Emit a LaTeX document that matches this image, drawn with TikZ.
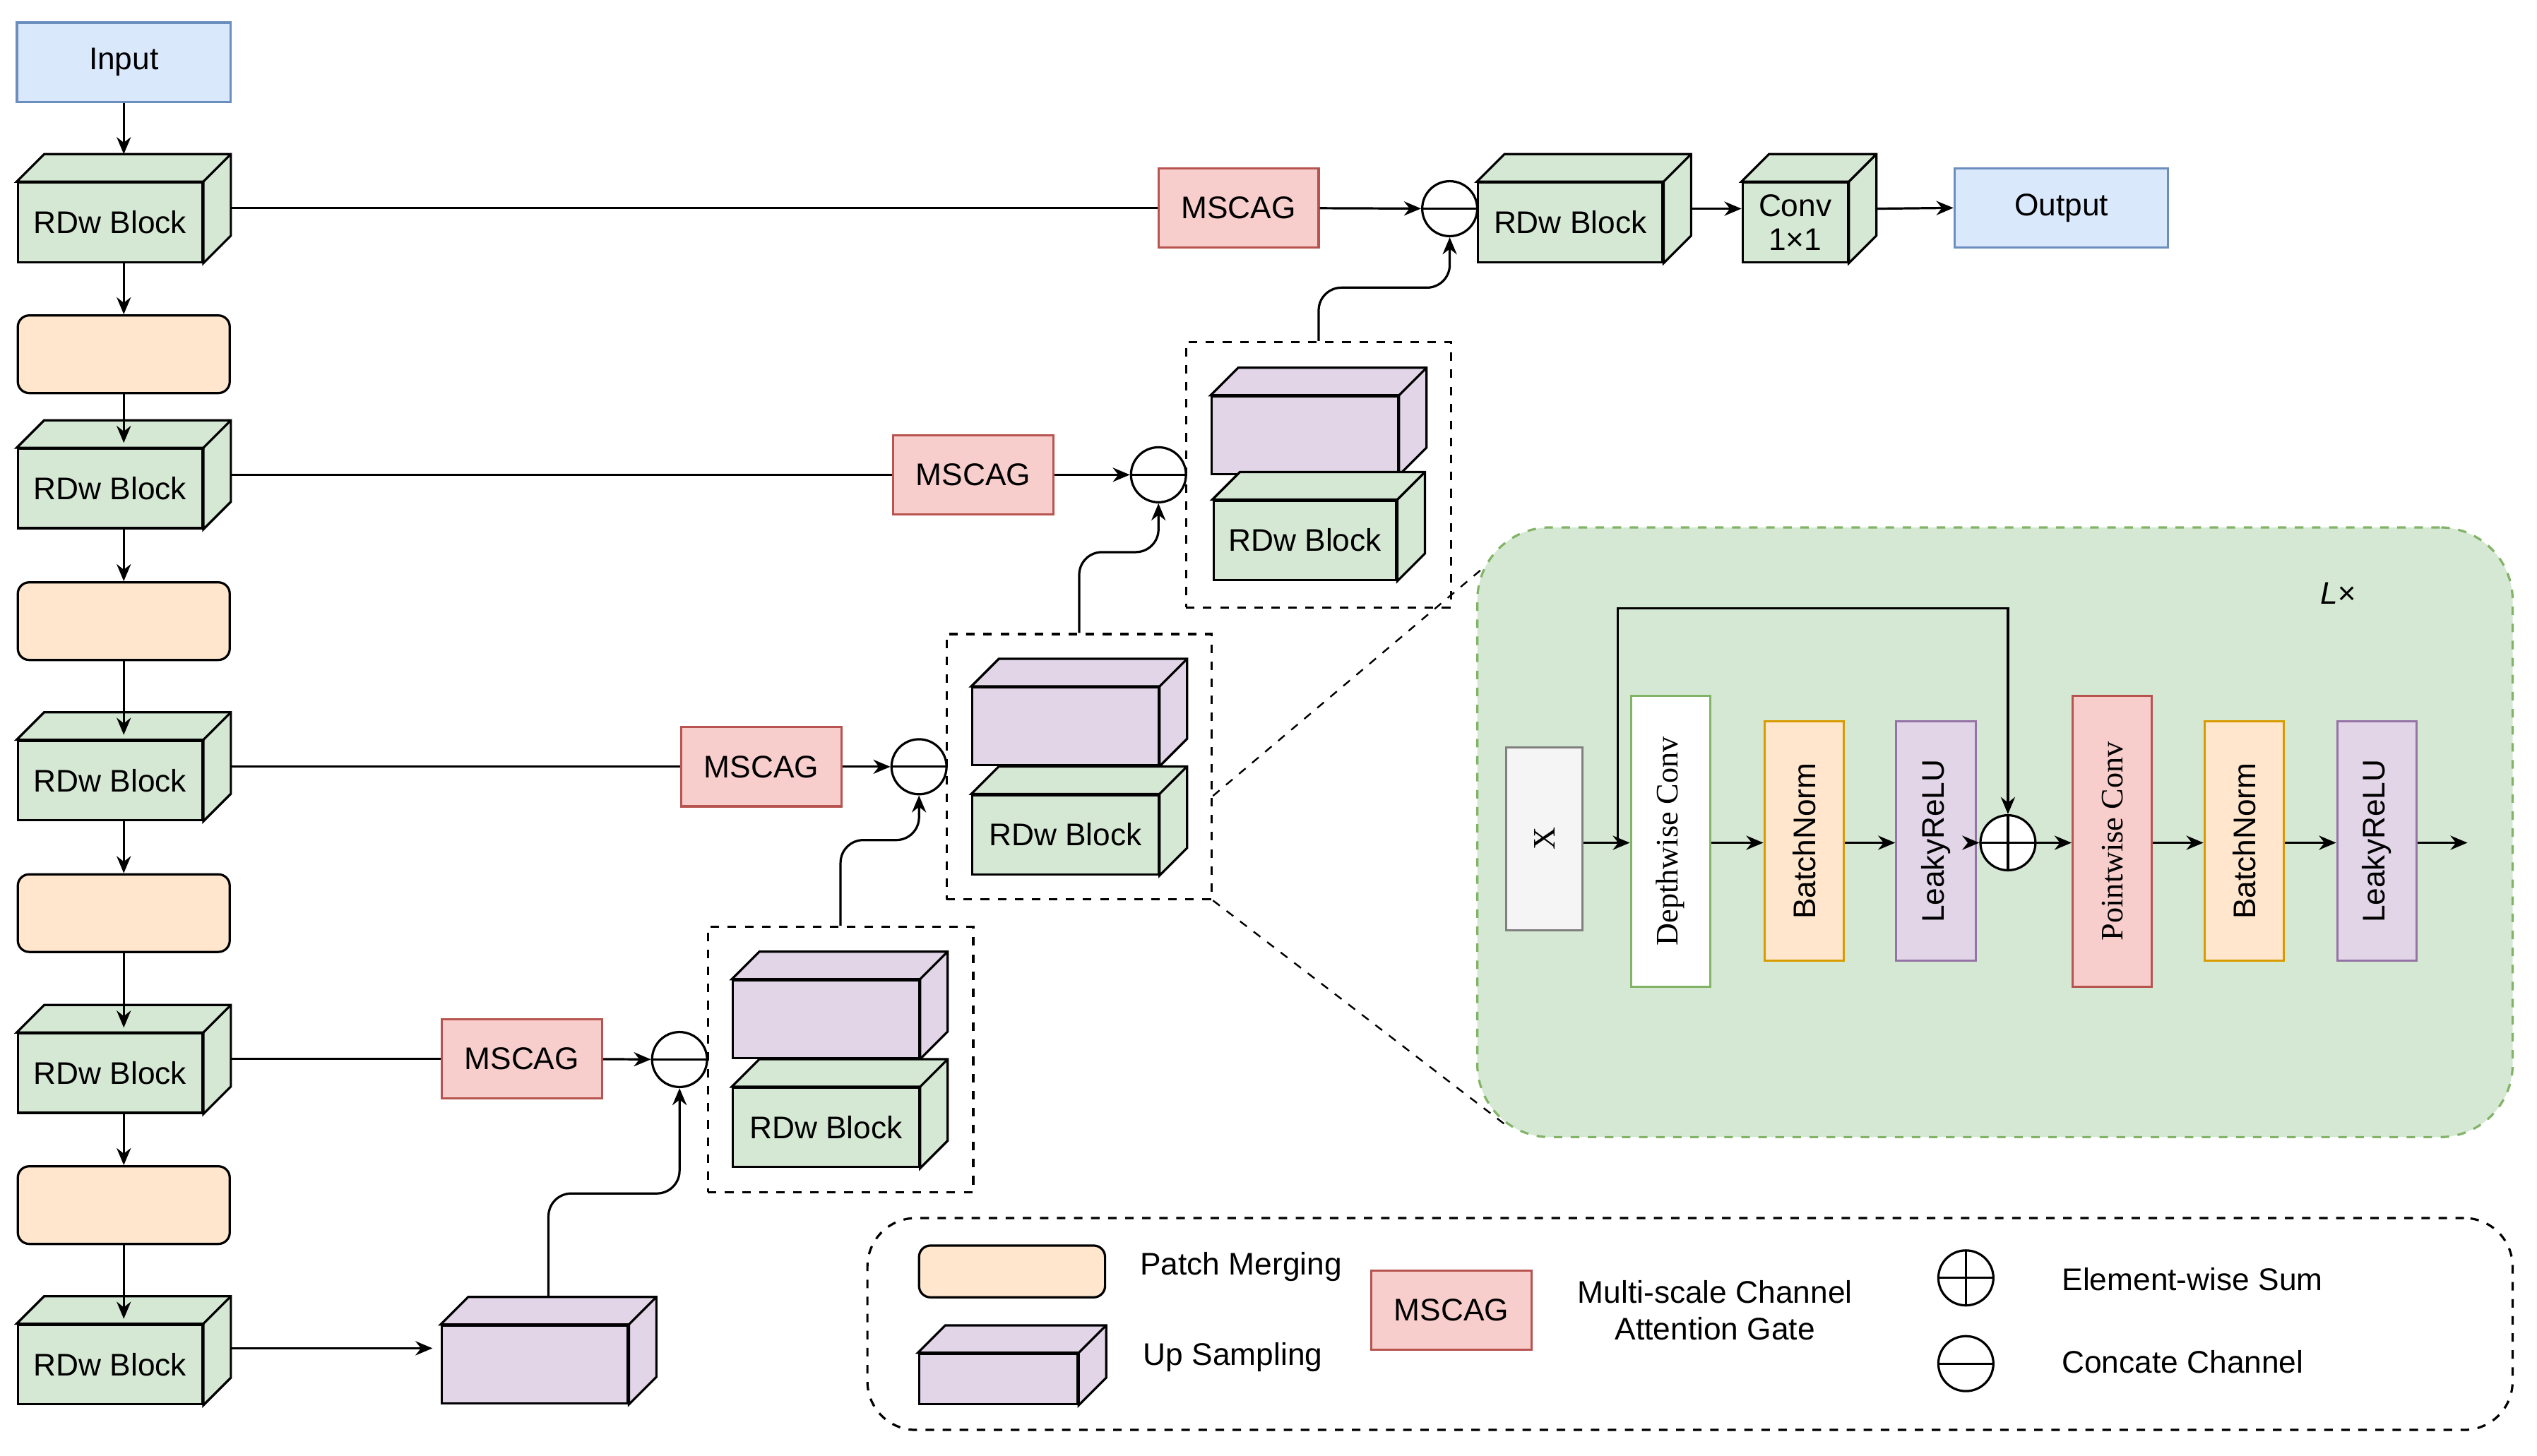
\documentclass[tikz,border=0pt]{standalone}
\usepackage{fontspec}
\setmainfont{Liberation Sans}
\newfontfamily\serif{Liberation Serif}
\usetikzlibrary{arrows.meta}
\definecolor{bluefill}{HTML}{DAE8FC}
\definecolor{blueline}{HTML}{6C8EBF}
\definecolor{greenfill}{HTML}{D5E8D4}
\definecolor{greenline}{HTML}{82B366}
\definecolor{orangefill}{HTML}{FFE6CC}
\definecolor{orangeline}{HTML}{D79B00}
\definecolor{redfill}{HTML}{F8CECC}
\definecolor{redline}{HTML}{B85450}
\definecolor{purplefill}{HTML}{E1D5E7}
\definecolor{purpleline}{HTML}{9673A6}
\tikzset{
  every node/.style={font=\fontsize{11}{13}\selectfont},
  arr/.style={-{Stealth[length=6pt,width=5pt]}},
  rdw/.style={draw, fill=greenfill, minimum width=2.28cm, minimum height=0.98cm, inner sep=0pt},
  up/.style={draw, fill=purplefill, minimum width=2.3cm, minimum height=0.96cm, inner sep=0pt},
  merge/.style={draw, fill=orangefill, rounded corners=4pt, minimum width=2.62cm, minimum height=0.96cm},
  io/.style={draw=blueline, fill=bluefill, minimum width=2.64cm, minimum height=0.98cm},
  gate/.style={draw=redline, fill=redfill, minimum width=1.98cm, minimum height=0.98cm},
  concat/.style={draw, fill=white, circle, minimum size=0.68cm, inner sep=0pt,
    path picture={\draw (path picture bounding box.west) -- (path picture bounding box.east);}},
  plus/.style={concat, path picture={\draw (path picture bounding box.west) -- (path picture bounding box.east)
    (path picture bounding box.north) -- (path picture bounding box.south);}},
  group/.style={draw, dashed, minimum width=3.28cm, minimum height=3.28cm},
  layer/.style={draw, minimum width=0.98cm, minimum height=2.96cm, inner sep=0pt},
}
\newcommand{\extrude}[2]{%
  \draw[fill=#2] (#1.north west) -- ++(0.34cm,0.34cm) -- ([shift={(0.34cm,0.34cm)}]#1.north east)
    -- ([shift={(0.34cm,0.34cm)}]#1.south east) -- (#1.south east) -- (#1.north east) -- cycle;
  \draw (#1.north east) -- ++(0.34cm,0.34cm);}
\begin{document}
\begin{tikzpicture}[x=0.02cm, y=-0.02cm, line width=0.8pt]
\useasboundingbox (0,0) rectangle (1568,900);

% encoder
\node[io] (input) at (76.5,38.5) {Input};
\node[rdw] (rdw1) at (68,137.5) {RDw Block}; \extrude{rdw1}{greenfill}
\node[merge] (pm1) at (76.5,219) {};
\node[rdw] (rdw2) at (68,302) {RDw Block}; \extrude{rdw2}{greenfill}
\node[merge] (pm2) at (76.5,384) {};
\node[rdw] (rdw3) at (68,482.5) {RDw Block}; \extrude{rdw3}{greenfill}
\node[merge] (pm3) at (76.5,564.5) {};
\node[rdw] (rdw4) at (68,663.5) {RDw Block}; \extrude{rdw4}{greenfill}
\node[merge] (pm4) at (76.5,745) {};
\node[rdw] (rdw5) at (68,843.5) {RDw Block}; \extrude{rdw5}{greenfill}

\draw[arr] (input.south) -- ([yshift=0.34cm]input.south |- rdw1.north);
\foreach \i/\j in {1/2,2/3,3/4,4/5}{
  \draw[arr] (pm\i.north |- rdw\i.south) -- (pm\i.north);
  \draw[arr] (pm\i.south) -- ([yshift=0.06cm]pm\i.south |- rdw\j.north);
}

% skip connections
\node[gate] (m1) at (765.5,128.5) {MSCAG};
\node[gate] (m2) at (601.5,293.5) {MSCAG};
\node[gate] (m3) at (470.5,474) {MSCAG};
\node[gate] (m4) at (322.5,654.5) {MSCAG};
\node[concat] (c1) at (896,129) {};
\node[concat] (c2) at (716,293.5) {};
\node[concat] (c3) at (568,474) {};
\node[concat] (c4) at (420,655) {};
\foreach \i in {1,...,4}{
  \draw ([xshift=0.34cm]rdw\i.east |- m\i) -- (m\i);
  \draw[arr] (m\i) -- (c\i);
}

% decoder
\node[group] (d1) at (815,293.5) {};
\node[up] (u1) at (806.5,269) {}; \extrude{u1}{purplefill}
\node[rdw, minimum width=2.26cm] (r1) at (806.5,334) {RDw Block}; \extrude{r1}{greenfill}
\node[group] (d2) at (667,474) {};
\node[up] (u2) at (658.5,449) {}; \extrude{u2}{purplefill}
\node[rdw, minimum width=2.3cm] (r2) at (658.5,516) {RDw Block}; \extrude{r2}{greenfill}
\node[group] (d3) at (519.5,655) {};
\node[up] (u3) at (510.5,630) {}; \extrude{u3}{purplefill}
\node[rdw, minimum width=2.3cm] (r3) at (510.5,697) {RDw Block}; \extrude{r3}{greenfill}
\node[up] (u4) at (330.5,843.5) {}; \extrude{u4}{purplefill}

\draw[arr] ([xshift=0.34cm,yshift=0.2cm]rdw5.east) -- ([xshift=-0.1cm,yshift=0.2cm]u4.west);
\draw[arr, rounded corners=8pt] ([xshift=0.17cm,yshift=0.34cm]u4.north) -- ++(0,-64) -| (c4.south);
\draw[arr, rounded corners=8pt] (d3.north) -- ++(0,-53) -| (c3.south);
\draw[arr, rounded corners=8pt] (d2.north) -- ++(0,-50) -| (c2.south);
\draw[arr, rounded corners=8pt] (d1.north) -- ++(0,-33) -| (c1.south);

\node[rdw] (rdwT) at (970.5,137.5) {RDw Block}; \extrude{rdwT}{greenfill}
\node[rdw, minimum width=1.3cm, align=center, font=\fontsize{11}{12}\selectfont] (conv) at (1109.5,137.5) {Conv\\1×1};
\extrude{conv}{greenfill}
\node[io] (output) at (1274,128.5) {Output};
\draw[arr] ([xshift=0.34cm]rdwT.east |- c1) -- (conv.west |- c1);
\draw[arr] ([xshift=0.34cm]conv.east |- c1) -- (output.west);

% detail panel
\node[draw=greenline, dashed, fill=greenfill, rounded corners=0.9cm, minimum width=12.8cm, minimum height=7.54cm] (panel) at (1233,514.5) {};
\coordinate (z1) at (918,350);
\coordinate (z2) at (930,695);
\draw[dashed, line width=0.6pt] ([yshift=-0.36cm]d2.east) -- (z1);
\draw[dashed, line width=0.6pt] (d2.south east) -- (z2);
\node[font=\fontsize{11}{13}\selectfont\itshape] (lx) at (1445,367) {L×};
\node[layer, draw=gray, fill=white!96!black, minimum width=0.94cm, minimum height=2.26cm] (x) at (954.5,518.5) {\rotatebox{90}{\serif X}};
\node[layer, draw=greenline, fill=white, minimum height=3.6cm] (dw) at (1032.5,520) {\rotatebox{90}{\serif Depthwise Conv}};
\node[layer, draw=orangeline, fill=orangefill] (bn1) at (1115,520) {\rotatebox{90}{BatchNorm}};
\node[layer, draw=purpleline, fill=purplefill] (lr1) at (1196.5,520) {\rotatebox{90}{LeakyReLU}};
\node[plus] (sum) at (1241,521) {};
\node[layer, draw=redline, fill=redfill, minimum height=3.6cm] (pw) at (1305.5,520) {\rotatebox{90}{\serif Pointwise Conv}};
\node[layer, draw=orangeline, fill=orangefill] (bn2) at (1387,520) {\rotatebox{90}{BatchNorm}};
\node[layer, draw=purpleline, fill=purplefill] (lr2) at (1469,520) {\rotatebox{90}{LeakyReLU}};
\coordinate (tap) at (1000,521);
\coordinate (out) at (1525,521);
\draw[arr] (x.east |- tap) -- (dw.west |- tap);
\draw[arr] (tap) |- (1241,376) -- (sum.north);
\draw[arr] (dw.east |- tap) -- (bn1.west |- tap);
\draw[arr] (bn1.east |- tap) -- (lr1.west |- tap);
\draw[arr] (lr1.east |- tap) -- (sum.west);
\draw[arr] (sum.east) -- (pw.west |- tap);
\draw[arr] (pw.east |- tap) -- (bn2.west |- tap);
\draw[arr] (bn2.east |- tap) -- (lr2.west |- tap);
\draw[arr] (lr2.east |- tap) -- (out);

% legend
\node[draw, dashed, rounded corners=0.6cm, minimum width=20.34cm, minimum height=2.62cm] (legend) at (1044.5,818.5) {};
\node[merge, minimum width=2.3cm, minimum height=0.64cm] (lpm) at (625.5,786) {};
\node (tpm) at (767,783) {Patch Merging};
\node[up, minimum width=1.96cm, minimum height=0.62cm] (lup) at (617,852.5) {}; \extrude{lup}{purplefill}
\node (tup) at (762,839) {Up Sampling};
\node[gate] (lgate) at (897,810) {MSCAG};
\node[align=center, font=\fontsize{11}{13}\selectfont] (tgate) at (1060,810) {Multi-scale Channel\\Attention Gate};
\node[plus] (lsum) at (1215,790) {};
\node (tsum) at (1355,791) {Element-wise Sum};
\node[concat] (lcat) at (1215,843) {};
\node (tcat) at (1349,842) {Concate Channel};
\end{tikzpicture}
\end{document}
